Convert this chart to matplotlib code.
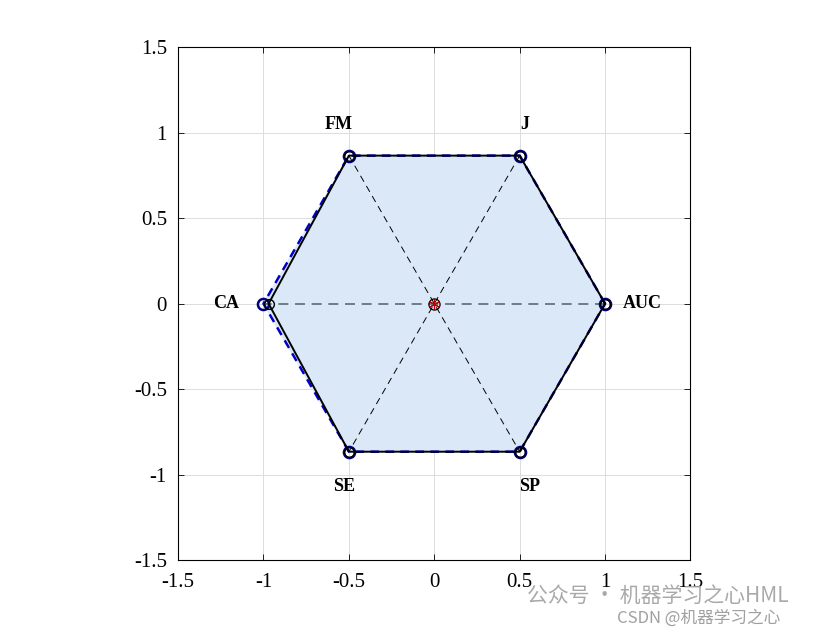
import numpy as np
import matplotlib
matplotlib.use('Agg')
import matplotlib.pyplot as plt

labels = ['AUC', 'J', 'FM', 'CA', 'SE', 'SP']
model_a = [1.0, 1.0, 1.0, 0.97, 1.0, 1.0]
model_b = [1.0, 1.0, 1.0, 1.0, 1.0, 1.0]
ticks = [-1.5, -1, -0.5, 0, 0.5, 1, 1.5]
tick_labels = ['-1.5', '-1', '-0.5', '0', '0.5', '1', '1.5']

plt.rcParams['font.family'] = ['Liberation Serif', 'DejaVu Serif']
fig = plt.figure(figsize=(8.4, 6.3), dpi=100)
ax = fig.add_axes([0.212, 0.111, 0.610, 0.814])
ang = np.deg2rad(np.arange(6) * 60)

ax.fill(np.cos(ang), np.sin(ang), color='#dbe8f7', zorder=1)
for i in range(3):
    c = '#5a6a7a' if i == 0 else 'k'
    lw = 1.2 if i == 0 else 0.7
    dash = (6, 4) if i == 0 else (7, 5)
    ax.plot([np.cos(ang[i]), np.cos(ang[i + 3])], [np.sin(ang[i]), np.sin(ang[i + 3])],
            color=c, lw=lw, ls=(0, dash), zorder=2)

rb = np.array(model_b)
xb = np.append(rb * np.cos(ang), rb[0] * np.cos(ang[0]))
yb = np.append(rb * np.sin(ang), rb[0] * np.sin(ang[0]))
ax.plot(xb, yb, color='#0000c8', lw=1.8, ls=(0, (3.5, 2.5)), zorder=3)
ax.plot(xb[:-1], yb[:-1], 'o', ms=8, mfc='none', mec='#000080', mew=1.8, zorder=4)

ra = np.array(model_a)
xa = np.append(ra * np.cos(ang), ra[0])
ya = np.append(ra * np.sin(ang), 0)
ax.plot(xa, ya, color='k', lw=1.4, zorder=5)
ax.plot(xa[:-1], ya[:-1], 'o', ms=7, mfc='none', mec='k', mew=1.0, zorder=6)

ax.plot(0, 0, 'o', ms=8, mfc='none', mec='k', mew=0.9, zorder=7)
ax.plot(0, 0, marker=(6, 2, 0), ms=8, color='#c00000', mew=0.8, zorder=8)

lx = [1.22, 0.53, -0.56, -1.22, -0.53, 0.56]
ly = [0.0, 1.05, 1.05, 0.0, -1.07, -1.07]
for l, x, y in zip(labels, lx, ly):
    ax.text(x, y, l, ha='center', va='center', fontsize=13, fontweight='bold')

ax.set_xlim(-1.5, 1.5)
ax.set_ylim(-1.5, 1.5)
ax.set_xticks(ticks)
ax.set_xticklabels(tick_labels)
ax.set_yticks(ticks)
ax.set_yticklabels(tick_labels)
ax.tick_params(labelsize=15, direction='in', length=4, width=0.6)
ax.tick_params(axis='x', pad=9)
ax.tick_params(axis='y', pad=8)
ax.tick_params(top=True, right=True)
ax.grid(True, color='#dcdcdc', lw=0.7)
ax.set_axisbelow(True)
for s in ax.spines.values():
    s.set_linewidth(0.8)

fig.text(0.627, 0.045, '公众号 · 机器学习之心HML', fontsize=15, color='#a0a0a0',
         family=['Noto Sans CJK SC', 'DejaVu Sans'], alpha=0.9)
fig.text(0.735, 0.012, 'CSDN @机器学习之心', fontsize=12, color='#a0a0a0',
         family=['Noto Sans CJK SC', 'DejaVu Sans'])
fig.savefig('out.png', dpi=100)
